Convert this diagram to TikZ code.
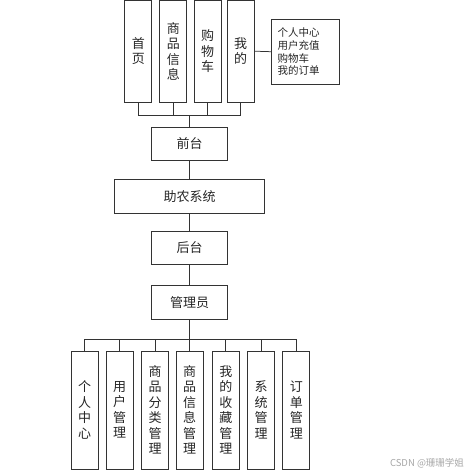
\documentclass[tikz,border=0pt]{standalone}
\usepackage{fontspec}
\newfontfamily\cjk{Noto Sans CJK SC}
\tikzset{every picture/.style={line width=0.75pt}}

\begin{document}
\begin{tikzpicture}[x=1pt,y=1pt,yscale=-1,xscale=1,
        box/.style={draw=black!80, line width=0.9pt, inner sep=0pt, align=center, text=black!85, font=\cjk\fontsize{13}{15.5}\selectfont},
        tallbox/.style={box, minimum width=27pt},
        flatbox/.style={box, minimum width=75.6pt, minimum height=33.6pt},
        link/.style={draw=black!80, line width=0.75pt}]
        \useasboundingbox (0,0) rectangle (474,474);

        % Text Node
        \node[tallbox, minimum height=101.5pt] (home) at (138.3,51.2) {首\\页};
        % Text Node
        \node[tallbox, minimum height=101.5pt] (goods) at (173.3,51.2) {商\\品\\信\\息};
        % Text Node
        \node[tallbox, minimum height=101.5pt] (cart) at (207.7,51.2) {购\\物\\车};
        % Text Node
        \node[tallbox, minimum height=101.5pt] (mine) at (240.7,51.2) {我\\的};
        % Text Node
        \node[box, align=left, text width=55.6pt, inner xsep=6pt, minimum height=65.3pt, font=\cjk\fontsize{10.5}{12.7}\selectfont] (mineinfo) at (305.5,51.7) {个人中心\\用户充值\\购物车\\我的订单};
        % Text Node
        \node[flatbox] (front) at (189.5,144) {前台};
        % Text Node
        \node[flatbox, minimum width=149.3pt] (system) at (189.5,196.3) {助农系统};
        % Text Node
        \node[flatbox] (back) at (189.5,248) {后台};
        % Text Node
        \node[flatbox] (admin) at (189.5,302.7) {管理员};

        % Text Node
        \node[tallbox, minimum height=118pt] (m1) at (84.7,410) {个\\人\\中\\心};
        % Text Node
        \node[tallbox, minimum height=118pt] (m2) at (119.7,410) {用\\户\\管\\理};
        % Text Node
        \node[tallbox, minimum height=118pt] (m3) at (155,410) {商\\品\\分\\类\\管\\理};
        % Text Node
        \node[tallbox, minimum height=118pt] (m4) at (189.5,410) {商\\品\\信\\息\\管\\理};
        % Text Node
        \node[tallbox, minimum height=118pt] (m5) at (225.8,410) {我\\的\\收\\藏\\管\\理};
        % Text Node
        \node[tallbox, minimum height=118pt] (m6) at (261,410) {系\\统\\管\\理};
        % Text Node
        \node[tallbox, minimum height=118pt] (m7) at (296.3,410) {订\\单\\管\\理};

        % Text Node
        \node[text=black!35, font=\cjk\fontsize{9.5}{11}\selectfont] (mark) at (427,463) {CSDN @珊珊学姐};

        %Straight Lines
        \coordinate (frontbus) at (189.5,115);
        \draw[link] (home.south) |- (frontbus);
        \draw[link] (goods.south) |- (frontbus);
        \draw[link] (cart.south) |- (frontbus);
        \draw[link] (mine.south) |- (frontbus);
        \draw[link] (frontbus) -- (front.north);
        \draw[link] (mine.east) -- (mineinfo.west);
        \draw[link] (front.south) -- (system.north);
        \draw[link] (system.south) -- (back.north);
        \draw[link] (back.south) -- (admin.north);

        %Straight Lines
        \coordinate (adminbus) at (189.5,339);
        \draw[link] (admin.south) -- (adminbus);
        \draw[link] (adminbus) -| (m1.north);
        \draw[link] (adminbus) -| (m2.north);
        \draw[link] (adminbus) -| (m3.north);
        \draw[link] (adminbus) -- (m4.north);
        \draw[link] (adminbus) -| (m5.north);
        \draw[link] (adminbus) -| (m6.north);
        \draw[link] (adminbus) -| (m7.north);

    \end{tikzpicture}
\end{document}
